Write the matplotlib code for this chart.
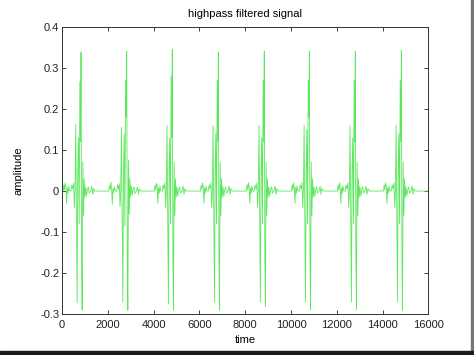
import numpy as np
import matplotlib
matplotlib.use("Agg")
import matplotlib.pyplot as plt
from matplotlib.patches import Rectangle

# time of the big spike in each beat
beat_centers = [830, 2825, 4815, 6825, 8830, 10800, 12805, 14815]

# sample times inside one beat, relative to the spike
beat_offsets = [-780, -750, -720, -690, -660, -630, -600, -570, -540, -500, -440, -400, -360, -320, -290, -260,
                -230, -200, -170, -140, -110, -80, -50, -20, 0, 25, 50, 80, 110, 140, 170,
                200, 240, 280, 320, 360, 420, 470, 510, 550, 600, 700]

# amplitude read for each beat
beat1 = [0.0, 0.015, 0.003, 0.02, 0.01, -0.03, 0.008, -0.005, 0.012, 0.0, 0.0, 0.015, 0.005, 0.02, -0.04, 0.0,
         0.162, -0.04, -0.272, 0.05, 0.13, -0.08, 0.266, 0.12, 0.338, -0.16, -0.289, 0.071, -0.06, 0.03, -0.015,
         0.01, -0.012, 0.004, 0.01, -0.005, 0.0, 0.012, -0.008, 0.006, 0.0, 0.0]
beat2 = [0.0, 0.013, 0.004, 0.022, 0.008, -0.032, 0.006, -0.004, 0.01, 0.0, 0.0, 0.016, 0.004, 0.018, -0.038, 0.0,
         0.155, -0.05, -0.27, 0.045, 0.14, -0.085, 0.27, 0.18, 0.34, -0.17, -0.29, 0.075, -0.055, 0.03, -0.015,
         0.012, -0.01, 0.005, 0.01, -0.006, 0.0, 0.01, -0.008, 0.005, 0.0, 0.0]
beat3 = [0.0, 0.015, 0.003, 0.019, 0.01, -0.03, 0.008, -0.005, 0.012, 0.0, 0.0, 0.015, 0.005, 0.02, -0.042, 0.0,
         0.16, -0.045, -0.275, 0.05, 0.13, -0.08, 0.28, 0.13, 0.345, -0.16, -0.29, 0.07, -0.06, 0.03, -0.015,
         0.01, -0.012, 0.004, 0.01, -0.005, 0.0, 0.012, -0.008, 0.006, 0.0, 0.0]
beat4 = [0.0, 0.014, 0.004, 0.02, 0.01, -0.03, 0.008, -0.005, 0.012, 0.0, 0.0, 0.015, 0.005, 0.02, -0.04, 0.0,
         0.16, -0.04, -0.27, 0.05, 0.14, -0.08, 0.27, 0.12, 0.338, -0.16, -0.29, 0.07, -0.06, 0.03, -0.015,
         0.01, -0.012, 0.004, 0.01, -0.005, 0.0, 0.012, -0.008, 0.006, 0.0, 0.0]
beat5 = [0.0, 0.015, 0.003, 0.02, 0.01, -0.03, 0.008, -0.005, 0.012, 0.0, 0.0, 0.015, 0.005, 0.02, -0.04, 0.0,
         0.16, -0.045, -0.27, 0.05, 0.13, -0.08, 0.27, 0.12, 0.34, -0.16, -0.281, 0.07, -0.06, 0.03, -0.015,
         0.01, -0.012, 0.004, 0.01, -0.005, 0.0, 0.012, -0.008, 0.006, 0.0, 0.0]
beat6 = [0.0, 0.015, 0.003, 0.02, 0.01, -0.03, 0.008, -0.005, 0.012, 0.0, 0.0, 0.015, 0.005, 0.02, -0.04, 0.0,
         0.16, -0.04, -0.27, 0.05, 0.15, -0.08, 0.27, 0.18, 0.34, -0.16, -0.289, 0.07, -0.06, 0.03, -0.015,
         0.01, -0.012, 0.004, 0.01, -0.005, 0.0, 0.012, -0.008, 0.006, 0.0, 0.0]
beat7 = [0.0, 0.015, 0.003, 0.02, 0.01, -0.03, 0.008, -0.005, 0.012, 0.0, 0.0, 0.015, 0.005, 0.02, -0.04, 0.0,
         0.16, -0.04, -0.27, 0.05, 0.13, -0.08, 0.27, 0.12, 0.34, -0.16, -0.288, 0.07, -0.06, 0.03, -0.015,
         0.01, -0.012, 0.004, 0.01, -0.005, 0.0, 0.012, -0.008, 0.006, 0.0, 0.0]
beat8 = [0.0, 0.015, 0.003, 0.02, 0.01, -0.03, 0.008, -0.005, 0.012, 0.0, 0.0, 0.015, 0.005, 0.02, -0.04, 0.0,
         0.16, -0.04, -0.27, 0.05, 0.14, -0.08, 0.27, 0.12, 0.342, -0.16, -0.29, 0.07, -0.06, 0.03, -0.015,
         0.01, -0.012, 0.004, 0.01, -0.005, 0.0, 0.012, -0.008, 0.006, 0.0, 0.0]
beats = [beat1, beat2, beat3, beat4, beat5, beat6, beat7, beat8]

end_time = [16000]
end_amp = [0.0]

xticks = [0, 2000, 4000, 6000, 8000, 10000, 12000, 14000, 16000]
yticks = [-0.3, -0.2, -0.1, 0, 0.1, 0.2, 0.3, 0.4]

t = np.concatenate([np.array(beat_offsets) + c for c in beat_centers] + [end_time])
y = np.concatenate([np.array(b) for b in beats] + [end_amp])

plt.rcParams['font.family'] = ['Liberation Sans', 'DejaVu Sans']

fig = plt.figure(figsize=(4.74, 3.55), dpi=100)
ax = fig.add_axes([0.1308, 0.1146, 0.7732, 0.8102])

ax.plot(t, y, color='#5ce85c', lw=0.6)

ax.set_xlim(0, 16000)
ax.set_ylim(-0.3, 0.4)
ax.set_xticks(xticks)
ax.set_yticks(yticks)
ax.set_xticklabels([str(v) for v in xticks])
ax.set_yticklabels(['-0.3', '-0.2', '-0.1', '0', '0.1', '0.2', '0.3', '0.4'])
ax.tick_params(direction='in', length=3, width=0.6, labelsize=8,
               top=True, right=True, colors='#222222')
ax.tick_params(axis='x', pad=4)
ax.tick_params(axis='y', pad=2)
for s in ax.spines.values():
    s.set_linewidth(0.7)
    s.set_color('#333333')

ax.set_title('highpass filtered signal', fontsize=8, pad=7)
ax.set_xlabel('time', fontsize=8, labelpad=4)
ax.set_ylabel('amplitude', fontsize=8, labelpad=12)

# dark frame edges of the screenshot
fig.patches.append(Rectangle((1 - 3 / 474, 0), 3 / 474, 1, transform=fig.transFigure,
                             color='#777777', zorder=0))
fig.patches.append(Rectangle((0, 0), 1, 4 / 355, transform=fig.transFigure,
                             color='#1a1a1a', zorder=0))

fig.savefig('out.png', dpi=100)
